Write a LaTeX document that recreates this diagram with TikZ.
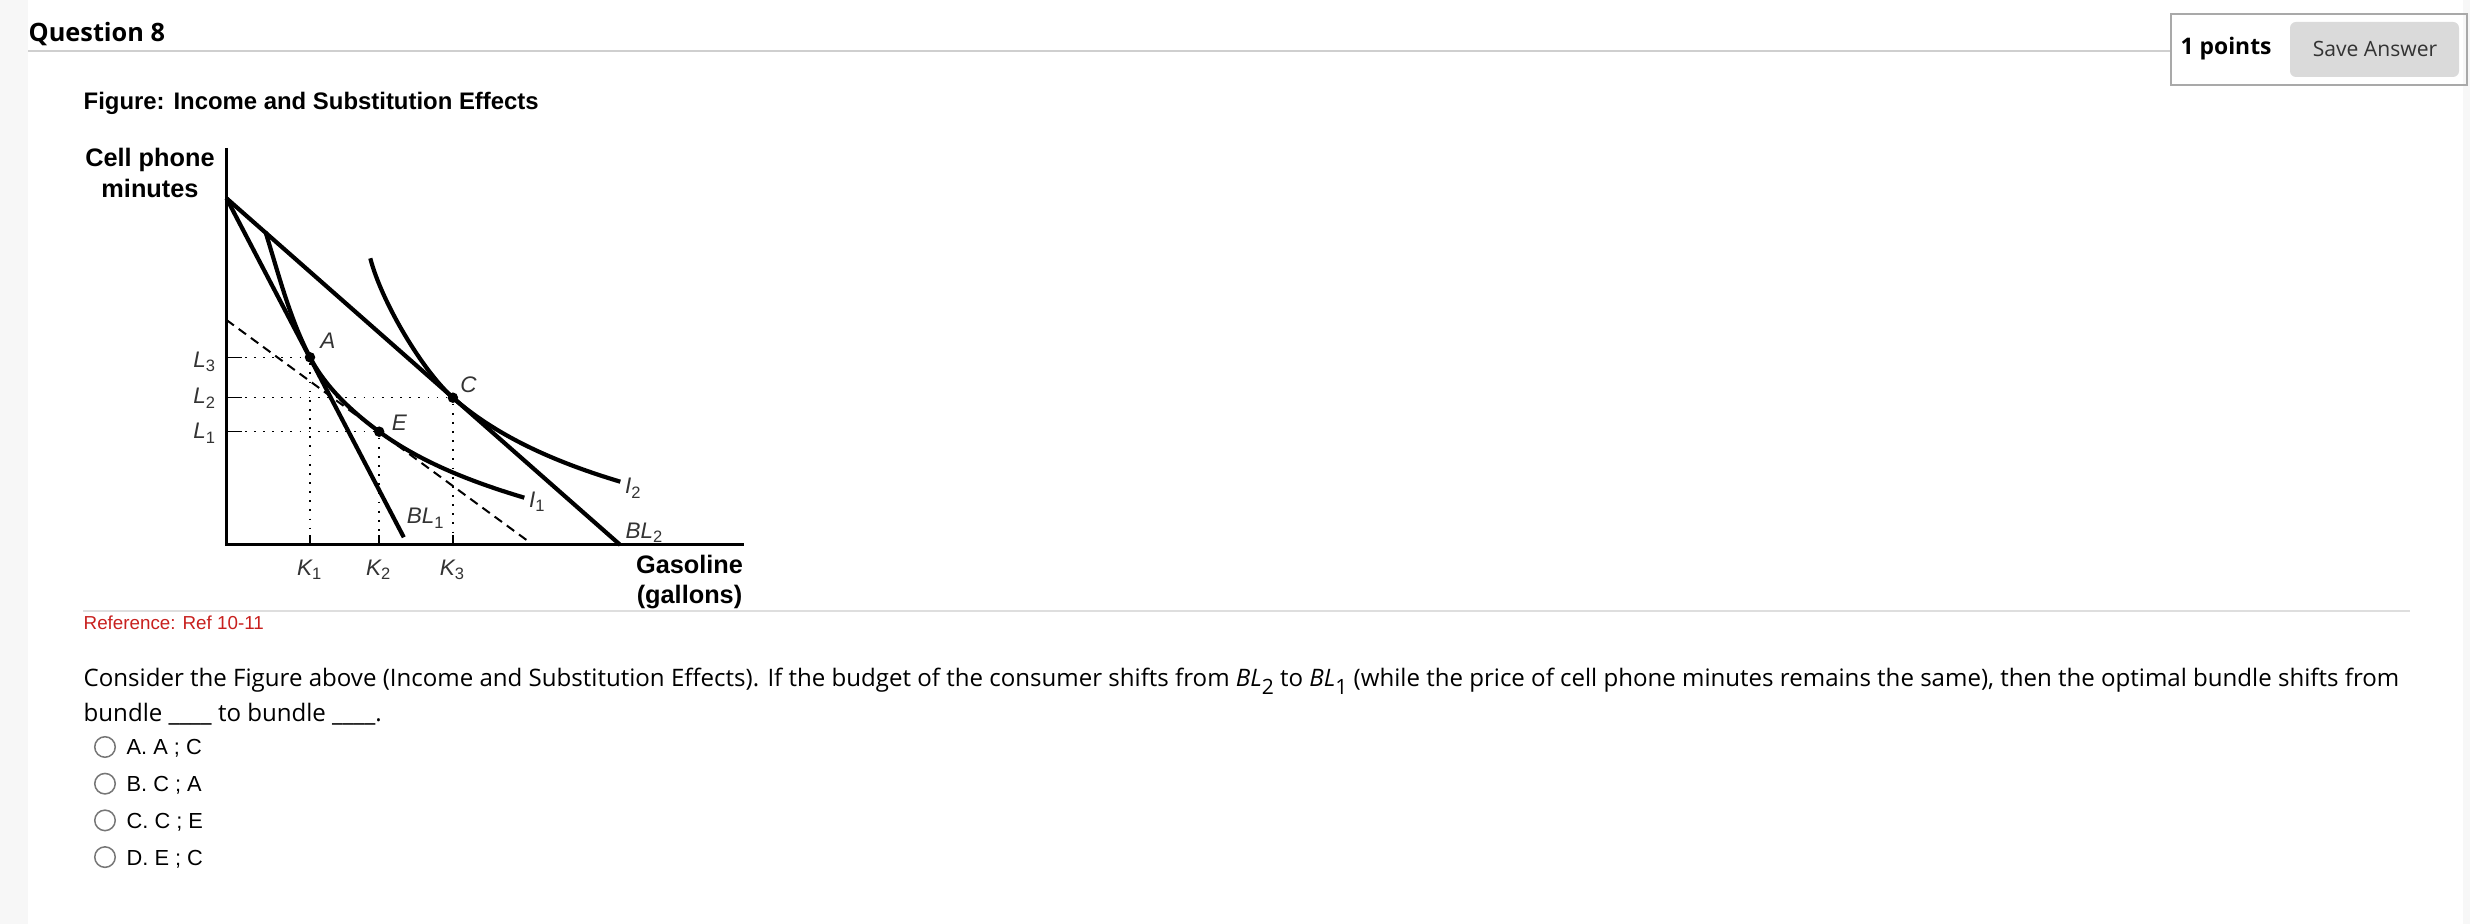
\documentclass[tikz,border=0pt]{standalone}
\usepackage{fontspec}
\setmainfont{Liberation Sans}
\newfontfamily\opensans{Open Sans}
\usetikzlibrary{calc}
\definecolor{pagegray}{HTML}{F7F7F7}
\definecolor{rulegray}{HTML}{CFCFCF}
\definecolor{boxgray}{HTML}{A9A9A9}
\definecolor{btngray}{HTML}{DADADA}
\definecolor{refred}{HTML}{C8201E}
\definecolor{radiogray}{HTML}{767676}
\def\fs#1{\fontsize{#1}{#1}\selectfont}
\def\sbs#1{\raisebox{-0.3em}{\fs{6.0}#1}}
\def\gsub#1{\textsubscript{\fs{4.7}\upshape #1}}

\begin{document}
\begin{tikzpicture}[x=0.1mm, y=-0.1mm,
    axis/.style={line width=0.3mm},
    budget/.style={line width=0.42mm},
    indiff/.style={line width=0.42mm},
    guide/.style={line width=0.15mm, dash pattern=on 0.5pt off 2.1pt},
    shifted/.style={line width=0.2mm, dash pattern=on 2.6pt off 1.7pt},
    bundle/.style={circle, fill=black, inner sep=0pt, minimum size=1.05mm},
    lbl/.style={inner sep=0pt, font=\fs{6.4}\itshape, text=black!80},
    axtitle/.style={inner sep=0pt, font=\fs{7.2}\bfseries, align=center},
    radio/.style={circle, draw=radiogray, line width=0.15mm, minimum size=2.05mm, inner sep=0pt}]
		%%%%% START %%%%%
		\useasboundingbox (0,0) rectangle (2470,924);
		\fill[white] (0,0) rectangle (2470,924);
		\fill[pagegray] (0,0) rectangle (28,924);
		\fill[pagegray] (2463,0) rectangle (2470,924);
		
		% header
		\node[anchor=base west, inner sep=0pt, font=\opensans\bfseries\fs{7.2}] (qtitle) at (28,42) {Question 8};
		\draw[rulegray, line width=0.12mm] (28,51) -- (2171,51);
		\draw[boxgray, line width=0.12mm] (2171,14) rectangle (2467,85);
		\node[anchor=base west, inner sep=0pt, font=\opensans\bfseries\fs{6.5}] (pts) at (2180,55) {1 points};
		\fill[btngray, rounded corners=0.6mm] (2290,22) rectangle (2459,77);
		\node[anchor=base, inner sep=0pt, font=\opensans\fs{6.0}, text=black!80] (save) at (2375,57) {Save Answer};
		
		\node[anchor=base west, inner sep=0pt, font=\fs{6.8}\bfseries] (ftitle) at (83,110) {Figure: Income and Substitution Effects};
		
		% axes
		\coordinate (O) at (226.5,545);
		\draw[axis] (226.5,148) -- (O) -- (744,545);
		\node[axtitle, anchor=base] (ylab) at (150,167) {Cell phone};
		\node[axtitle, anchor=base] (ylab2) at (150,198) {minutes};
		\node[axtitle, anchor=base] (xlab) at (689.5,574) {Gasoline};
		\node[axtitle, anchor=base] (xlab2) at (689.5,604) {(gallons)};
		
		% budget lines
		\coordinate (T) at (226.5,198.3);
		\draw[budget] (T) -- (620.3,545);
		\draw[budget] (T) -- (403.8,537.3);
		\draw[shifted] (226.5,320) -- (531,543.3);
		
		% indifference curves
		\draw[indiff] (265.4,231.7) .. controls (278.5,273.7) and (289.6,318.3) .. (310,357.3)
		    .. controls (325.7,387.4) and (351.8,411.6) .. (379.2,431.7)
		    .. controls (422,463) and (473.5,482.5) .. (524.3,497.7);
		\draw[indiff] (370.3,258.3) .. controls (381.5,302) and (422.9,371.3) .. (452.9,397.7)
		    .. controls (499.5,438.7) and (560.9,463.9) .. (620.3,481.7);
		
		% bundles
		\node[bundle] (A) at (310,357.3) {};
		\node[bundle] (C) at (452.9,397.7) {};
		\node[bundle] (E) at (379.2,431.7) {};
		
		\draw[guide] (A -| O) -- (A) -- (A |- O);
		\draw[guide] (C -| O) -- (C) -- (C |- O);
		\draw[guide] (E -| O) -- (E) -- (E |- O);
		\foreach \p in {A,C,E}{
		    \draw[line width=0.15mm] (\p -| O) -- ++(15,0);
		    \draw[line width=0.15mm] (\p |- O) -- ++(0,-10);
		}
		
		\node[lbl] (lA) at (327.9,340.7) {A};
		\node[lbl] (lC) at (468.5,385) {C};
		\node[lbl] (lE) at (399.3,422.7) {E};
		\node[lbl] (lI1) at (537.7,501.7) {I\gsub{1}};
		\node[lbl] (lI2) at (633.7,488.3) {I\gsub{2}};
		\node[lbl] (lBL1) at (426,518.3) {BL\gsub{1}};
		\node[lbl] (lBL2) at (644.8,532.7) {BL\gsub{2}};
		\node[lbl] (lK1) at (310,570) {K\gsub{1}};
		\node[lbl] (lK2) at (379.2,570) {K\gsub{2}};
		\node[lbl] (lK3) at (452.9,570) {K\gsub{3}};
		\node[lbl] (lL3) at (205,361.7) {L\gsub{3}};
		\node[lbl] (lL2) at (205,398.3) {L\gsub{2}};
		\node[lbl] (lL1) at (205,433.3) {L\gsub{1}};
		
		% reference and question
		\draw[black!13, line width=0.12mm] (83,611) -- (2410,611);
		\node[anchor=base west, inner sep=0pt, font=\fs{5.35}, text=refred] (ref) at (83,630) {Reference: Ref 10-11};
		\node[anchor=base west, inner sep=0pt, font=\opensans\fs{6.85}] (q1) at (83,687) {Consider the Figure above (Income and Substitution Effects). If the budget of the consumer shifts from {\itshape BL}\sbs{2} to {\itshape BL}\sbs{1} (while the price of cell phone minutes remains the same), then the optimal bundle shifts from};
		\node[anchor=base west, inner sep=0pt, font=\opensans\fs{6.85}] (q2) at (83,722) {bundle \_\_\_\_ to bundle \_\_\_\_.};
		
		\foreach \t [count=\i from 0] in {A. A ; C, B. C ; A, C. C ; E, D. E ; C}{
		    \node[radio] (r\i) at (105,747+36.7*\i) {};
		    \node[anchor=base west, inner sep=0pt, font=\fs{6.2}] (o\i) at (126,755+36.7*\i) {\t};
		}
		%%%%% END %%%%%
\end{tikzpicture}
\end{document}
